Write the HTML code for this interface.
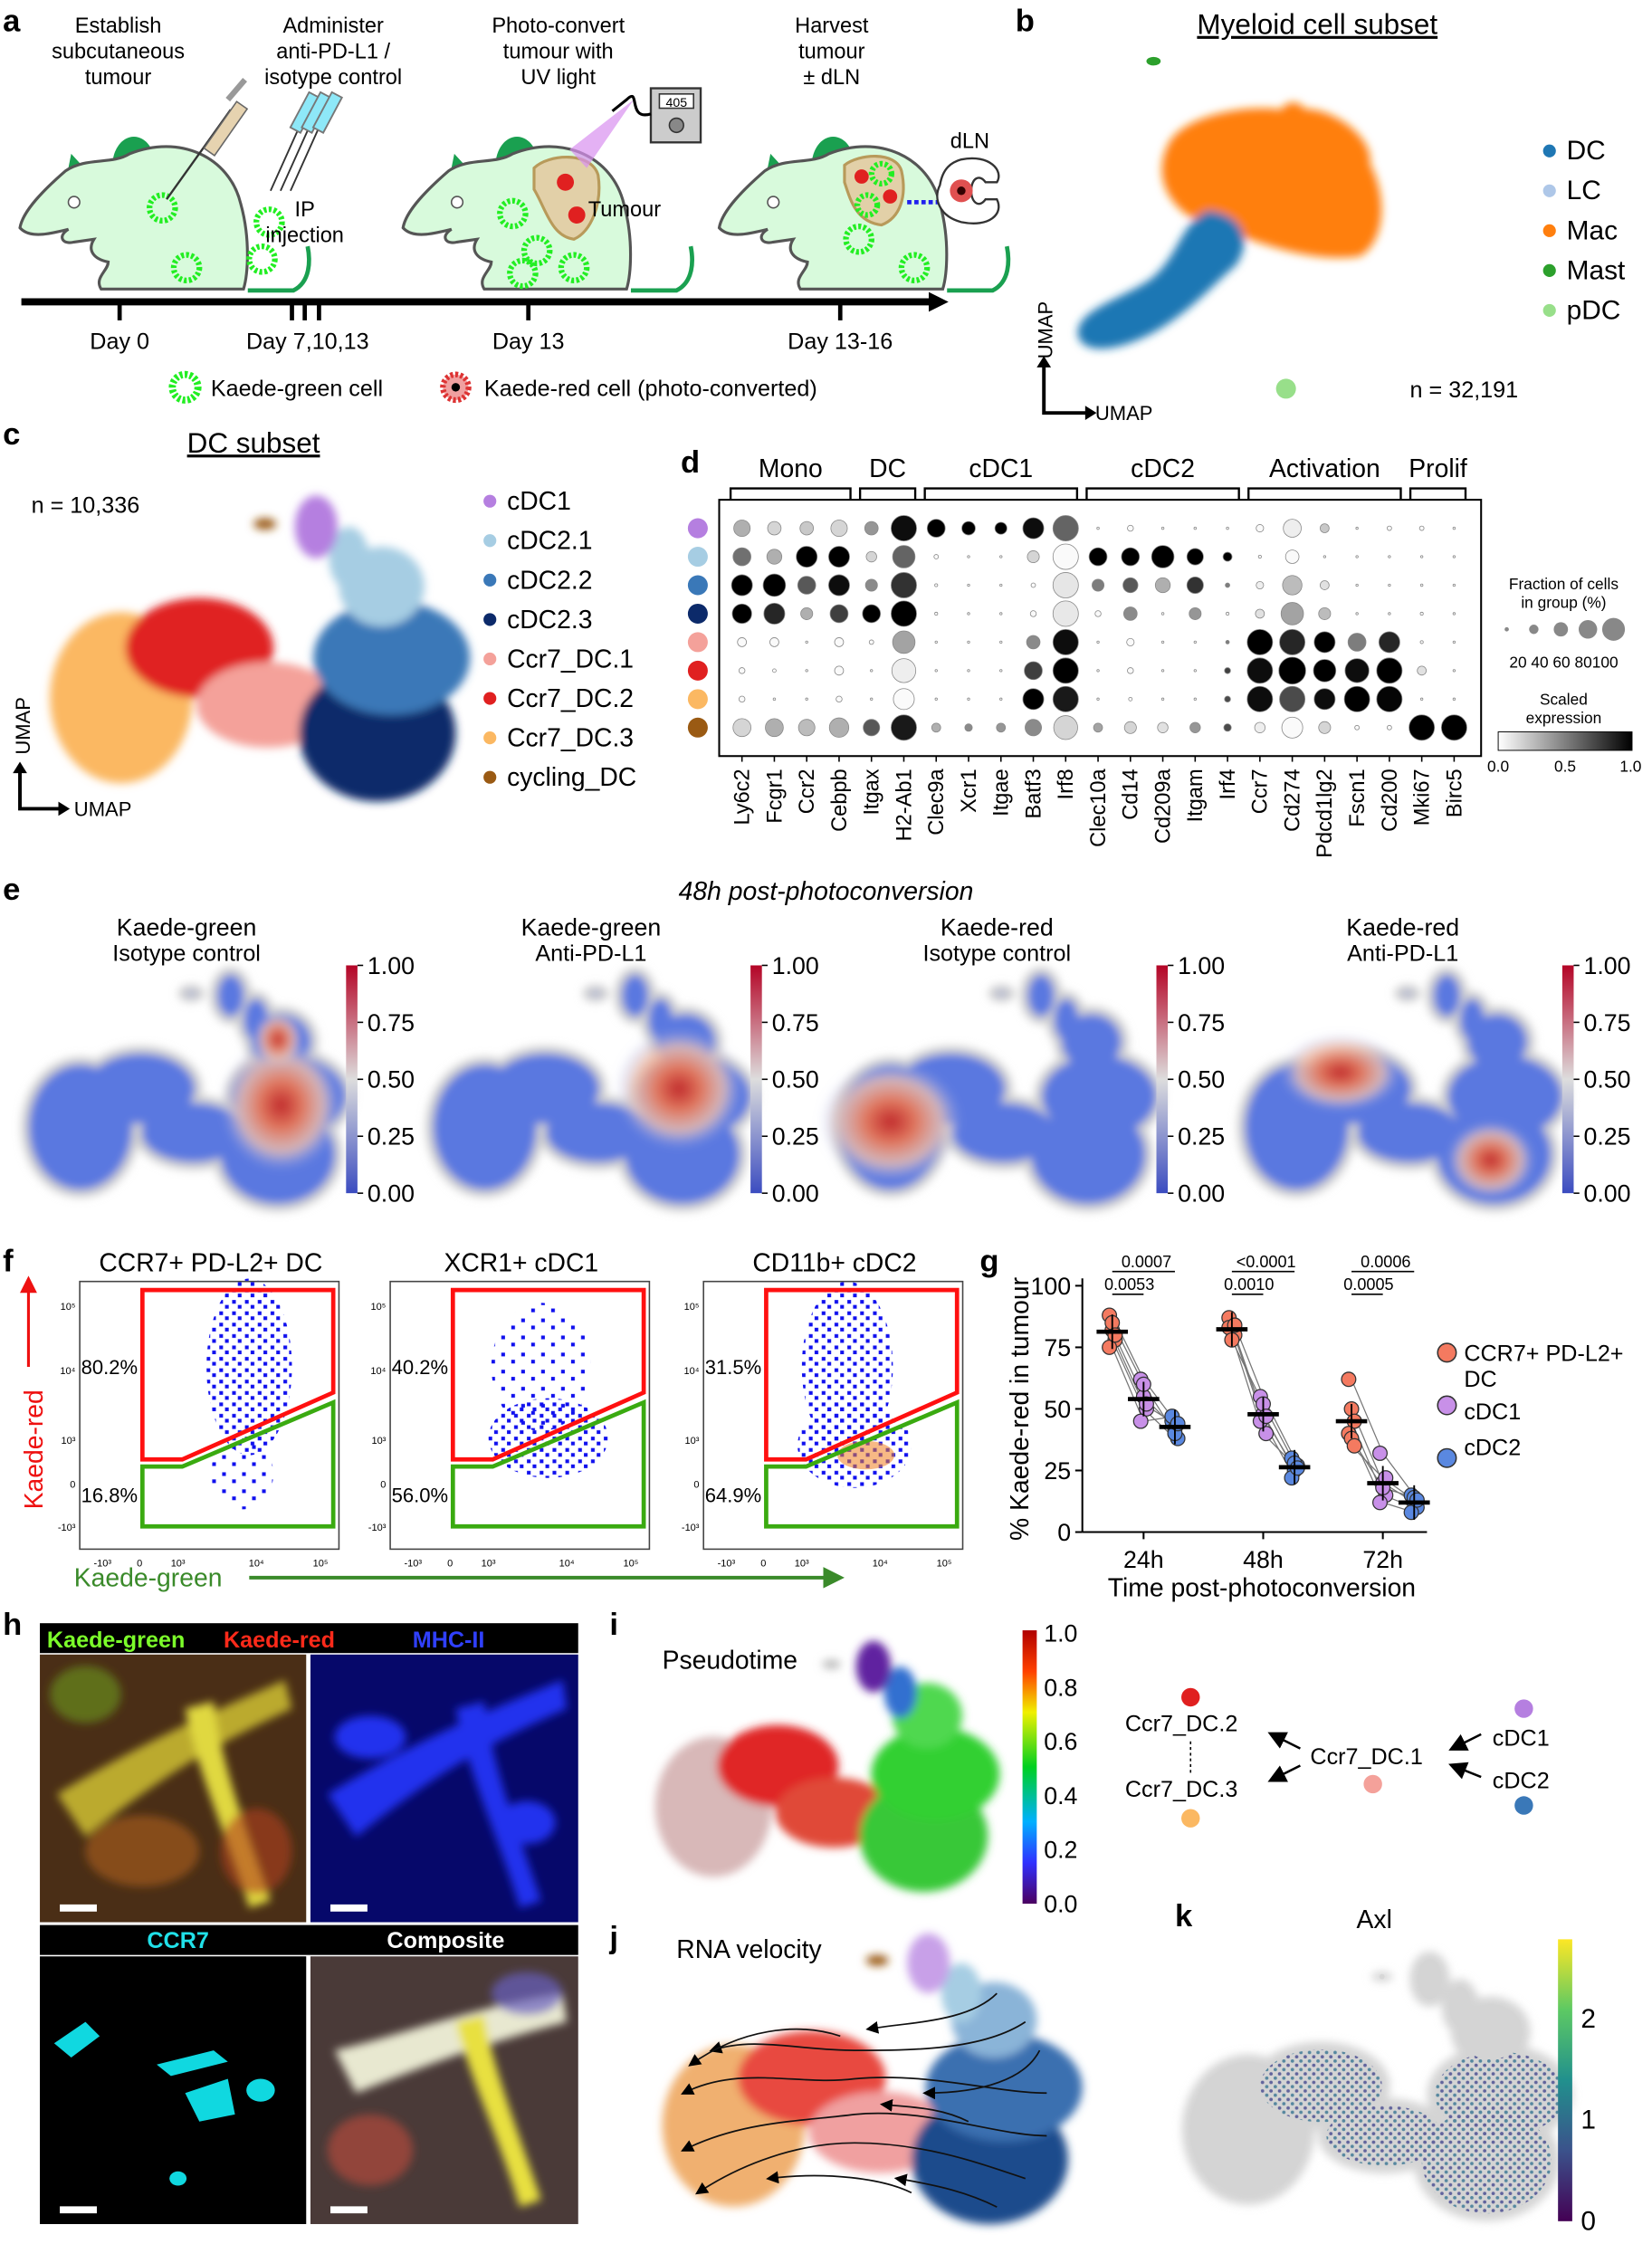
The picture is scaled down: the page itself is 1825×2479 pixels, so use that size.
<!DOCTYPE html>
<html><head><meta charset="utf-8"><style>
html,body{margin:0;padding:0;background:#fff}
svg{display:block}
text{font-family:"Liberation Sans",sans-serif}
</style></head><body>
<svg id="fig" xmlns="http://www.w3.org/2000/svg" width="1825" height="2479" viewBox="0 0 1160 1576" preserveAspectRatio="none">
<defs>
<filter id="bl" x="-20%" y="-20%" width="140%" height="140%"><feGaussianBlur stdDeviation="3"/></filter>
<filter id="bl6" x="-30%" y="-30%" width="160%" height="160%"><feGaussianBlur stdDeviation="6"/></filter>
<radialGradient id="hot"><stop offset="0" stop-color="#c0282a"/><stop offset="0.35" stop-color="#e0775e"/><stop offset="0.7" stop-color="#efc3b0" stop-opacity="0.8"/><stop offset="1" stop-color="#9db0f0" stop-opacity="0"/></radialGradient>
<linearGradient id="cw" x1="0" y1="1" x2="0" y2="0"><stop offset="0" stop-color="#3b4cc0"/><stop offset="0.5" stop-color="#dddddd"/><stop offset="1" stop-color="#b40426"/></linearGradient>
<linearGradient id="jet" x1="0" y1="1" x2="0" y2="0"><stop offset="0" stop-color="#4b0060"/><stop offset="0.15" stop-color="#3030ff"/><stop offset="0.3" stop-color="#00b0ff"/><stop offset="0.5" stop-color="#00d020"/><stop offset="0.7" stop-color="#f0f000"/><stop offset="0.85" stop-color="#ff4000"/><stop offset="1" stop-color="#b00000"/></linearGradient>
<linearGradient id="vir" x1="0" y1="1" x2="0" y2="0"><stop offset="0" stop-color="#440154"/><stop offset="0.25" stop-color="#3b528b"/><stop offset="0.5" stop-color="#21908d"/><stop offset="0.75" stop-color="#5dc963"/><stop offset="1" stop-color="#fde725"/></linearGradient>
<linearGradient id="gry" x1="0" y1="0" x2="1" y2="0"><stop offset="0" stop-color="#fff"/><stop offset="1" stop-color="#000"/></linearGradient>
<pattern id="dots" width="9" height="8" patternUnits="userSpaceOnUse"><rect x="1" y="1" width="2.6" height="2.6" fill="#1010ee"/><rect x="5" y="4.5" width="2.6" height="2.6" fill="#1010ee"/></pattern>
<pattern id="dotsS" width="14" height="12" patternUnits="userSpaceOnUse"><rect x="2" y="2" width="2.6" height="2.6" fill="#1010ee"/><rect x="9" y="7" width="2.6" height="2.6" fill="#1010ee"/></pattern>
<pattern id="kdots" width="6" height="6" patternUnits="userSpaceOnUse"><circle cx="1.5" cy="1.5" r="1.2" fill="#2c6e8e"/><circle cx="4.5" cy="4.5" r="1.2" fill="#3b3f8a"/></pattern>
<marker id="ah" markerWidth="8" markerHeight="8" refX="6" refY="4" orient="auto"><path d="M0,0 L8,4 L0,8 Z" fill="#000"/></marker>
<marker id="ahT" markerWidth="14" markerHeight="14" refX="4" refY="7" orient="auto" markerUnits="userSpaceOnUse"><path d="M0,0 L14,7 L0,14 Z" fill="#000"/></marker>
<marker id="ahg" markerWidth="6" markerHeight="6" refX="4" refY="3" orient="auto"><path d="M0,0 L6,3 L0,6 Z" fill="#3a8a2a"/></marker>
<marker id="ahr" markerWidth="6" markerHeight="6" refX="4" refY="3" orient="auto"><path d="M0,0 L6,3 L0,6 Z" fill="#ee1111"/></marker>
<path id="mouse" d="M8,62 C10,50 25,35 40,22 C55,12 72,18 85,10 C120,-4 155,12 163,45 C170,70 168,95 165,105 L65,105 C60,97 70,92 70,86 C60,84 55,78 60,70 L46,72 C38,74 34,68 42,63 C30,66 15,70 8,62 Z"/>
</defs>

<!-- ===== Panel a ===== -->
<g>
<text x="2" y="22" font-size="22" font-weight="bold">a</text>
<g font-size="15" text-anchor="middle">
<text x="83" y="23">Establish</text><text x="83" y="41">subcutaneous</text><text x="83" y="59">tumour</text>
<text x="234" y="23">Administer</text><text x="234" y="41">anti-PD-L1 /</text><text x="234" y="59">isotype control</text>
<text x="392" y="23">Photo-convert</text><text x="392" y="41">tumour with</text><text x="392" y="59">UV light</text>
<text x="584" y="23">Harvest</text><text x="584" y="41">tumour</text><text x="584" y="59">± dLN</text>
</g>
<g transform="translate(6,98)">
<ellipse cx="88" cy="18" rx="15" ry="20" fill="#1aa050"/><path d="M40,30 L44,10 L55,22 Z" fill="#1aa050"/>
<use href="#mouse" fill="#d8fadc" stroke="#555" stroke-width="2"/>
<path d="M168,106 L200,106 C212,100 212,85 210,75" fill="none" stroke="#1aa050" stroke-width="3"/>
<circle cx="46" cy="44" r="4" fill="#fff" stroke="#555"/>
<g fill="none" stroke="#22ee22" stroke-width="4" stroke-dasharray="2 1.5"><circle cx="108" cy="48" r="9"/><circle cx="183" cy="58" r="9"/><circle cx="125" cy="90" r="9"/><circle cx="178" cy="84" r="9"/></g>
</g>
<g><line x1="117" y1="140" x2="162" y2="77" stroke="#333" stroke-width="1.5"/><rect x="154" y="70" width="9" height="40" fill="#e6d3b0" stroke="#666" transform="rotate(35 158 90)"/><line x1="160" y1="70" x2="172" y2="56" stroke="#999" stroke-width="4"/></g>
<g stroke="#333" stroke-width="1.2"><line x1="190" y1="134" x2="212" y2="85"/><line x1="197" y1="134" x2="219" y2="85"/><line x1="204" y1="134" x2="226" y2="85"/>
<g fill="#8ee8f8" stroke="#777"><rect x="210" y="65" width="8" height="28" transform="rotate(28 214 79)"/><rect x="218" y="65" width="8" height="28" transform="rotate(28 222 79)"/><rect x="226" y="65" width="8" height="28" transform="rotate(28 230 79)"/></g></g>
<text x="214" y="152" font-size="15" text-anchor="middle">IP</text><text x="214" y="170" font-size="15" text-anchor="middle">injection</text>
<g transform="translate(275,98)">
<ellipse cx="88" cy="18" rx="15" ry="20" fill="#1aa050"/><path d="M40,30 L44,10 L55,22 Z" fill="#1aa050"/>
<use href="#mouse" fill="#d8fadc" stroke="#555" stroke-width="2"/>
<path d="M168,106 L200,106 C212,100 212,85 210,75" fill="none" stroke="#1aa050" stroke-width="3"/>
<circle cx="46" cy="44" r="4" fill="#fff" stroke="#555"/>
<path d="M100,20 C110,10 140,8 145,25 C148,45 140,65 128,70 C112,68 108,48 100,35 Z" fill="#e2d0a8" stroke="#b89a5a" stroke-width="2"/>
<circle cx="122" cy="30" r="6" fill="#e02020"/><circle cx="130" cy="53" r="6" fill="#e02020"/>
<g fill="none" stroke="#22ee22" stroke-width="4" stroke-dasharray="2 1.5"><circle cx="85" cy="52" r="9"/><circle cx="102" cy="78" r="9"/><circle cx="92" cy="94" r="9"/><circle cx="128" cy="90" r="9"/></g>
</g>
<g><path d="M445,70 L400,105 L412,118 Z" fill="#d890f0" opacity="0.7"/><rect x="457" y="62" width="35" height="38" fill="#ccc" stroke="#333" stroke-width="1.5"/><rect x="463" y="66" width="24" height="10" fill="#fff" stroke="#333"/><text x="475" y="75" font-size="9" text-anchor="middle">405</text><circle cx="475" cy="88" r="5" fill="#888" stroke="#333"/><path d="M457,80 C440,85 450,60 440,70 L430,78" fill="none" stroke="#000" stroke-width="2"/></g>
<text x="413" y="152" font-size="15">Tumour</text>
<g transform="translate(497,98)">
<ellipse cx="88" cy="18" rx="15" ry="20" fill="#1aa050"/><path d="M40,30 L44,10 L55,22 Z" fill="#1aa050"/>
<use href="#mouse" fill="#d8fadc" stroke="#555" stroke-width="2"/>
<path d="M168,106 L200,106 C212,100 212,85 210,75" fill="none" stroke="#1aa050" stroke-width="3"/>
<circle cx="46" cy="44" r="4" fill="#fff" stroke="#555"/>
<path d="M96,18 C106,10 132,8 136,22 C140,40 135,55 122,60 C104,58 100,42 96,30 Z" fill="#e2d0a8" stroke="#b89a5a" stroke-width="2"/>
<circle cx="108" cy="26" r="5" fill="#e02020"/><circle cx="128" cy="40" r="5" fill="#e02020"/>
<g fill="none" stroke="#22ee22" stroke-width="4" stroke-dasharray="2 1.5"><circle cx="122" cy="24" r="7"/><circle cx="112" cy="46" r="7"/><circle cx="106" cy="70" r="9"/><circle cx="145" cy="90" r="9"/></g>
<line x1="140" y1="44" x2="176" y2="44" stroke="#2020ee" stroke-width="3" stroke-dasharray="3 2"/><path d="M176,38 L184,44 L176,50 Z" fill="#2020ee"/>
</g>
<text x="681" y="104" font-size="15" text-anchor="middle">dLN</text>
<g><path d="M675,112 C695,108 705,120 700,128 L692,128 C688,122 682,125 682,134 C682,143 688,146 692,140 L700,140 C705,150 695,160 675,156 C660,152 655,140 660,130 C662,118 668,114 675,112 Z" fill="#fff" stroke="#333" stroke-width="1.5"/><circle cx="675" cy="134" r="8" fill="#e05050"/><circle cx="675" cy="134" r="3" fill="#300"/></g>
<line x1="15" y1="212" x2="656" y2="212" stroke="#000" stroke-width="5" marker-end="url(#ahT)"/>
<g stroke="#000" stroke-width="3"><line x1="84" y1="212" x2="84" y2="225"/><line x1="205" y1="212" x2="205" y2="225"/><line x1="214" y1="212" x2="214" y2="225"/><line x1="224" y1="212" x2="224" y2="225"/><line x1="371" y1="212" x2="371" y2="225"/><line x1="590" y1="212" x2="590" y2="225"/></g>
<g font-size="16" text-anchor="middle"><text x="84" y="245">Day 0</text><text x="216" y="245">Day 7,10,13</text><text x="371" y="245">Day 13</text><text x="590" y="245">Day 13-16</text></g>
<g><circle cx="130" cy="272" r="9" fill="none" stroke="#22ee22" stroke-width="5" stroke-dasharray="2 1.5"/><text x="148" y="278" font-size="16">Kaede-green cell</text>
<circle cx="320" cy="272" r="9" fill="#f0a0a0" stroke="#dd3333" stroke-width="4" stroke-dasharray="2 1.5"/><circle cx="320" cy="272" r="3" fill="#000"/><text x="340" y="278" font-size="16">Kaede-red cell (photo-converted)</text></g>
</g>

<!-- ===== Panel b ===== -->
<g>
<text x="713" y="22" font-size="22" font-weight="bold">b</text>
<text x="925" y="24" font-size="20" text-anchor="middle" text-decoration="underline">Myeloid cell subset</text>
<g filter="url(#bl)">
<path d="M820,102 C830,80 880,72 905,78 C930,70 965,95 962,115 C975,140 972,170 955,180 C915,186 870,165 835,152 C815,138 812,118 820,102 Z" fill="#ff7f0e"/>
<ellipse cx="908" cy="78" rx="8" ry="6" fill="#ff7f0e"/>
<path d="M848,148 C872,150 880,168 868,186 C852,200 842,212 822,226 C795,245 762,252 757,236 C754,218 788,210 808,196 C828,180 828,158 848,148 Z" fill="#1f77b4"/>
</g>
<ellipse cx="810" cy="43" rx="5" ry="3" fill="#2ca02c"/>
<ellipse cx="903" cy="273" rx="7" ry="7" fill="#98df8a"/>
<g font-size="19">
<circle cx="1088" cy="106" r="4.5" fill="#1f77b4"/><text x="1100" y="112">DC</text>
<circle cx="1088" cy="134" r="4.5" fill="#aec7e8"/><text x="1100" y="140">LC</text>
<circle cx="1088" cy="162" r="4.5" fill="#ff7f0e"/><text x="1100" y="168">Mac</text>
<circle cx="1088" cy="190" r="4.5" fill="#2ca02c"/><text x="1100" y="196">Mast</text>
<circle cx="1088" cy="218" r="4.5" fill="#98df8a"/><text x="1100" y="224">pDC</text>
</g>
<text x="990" y="279" font-size="16">n = 32,191</text>
<path d="M733,255 L733,290 L765,290" fill="none" stroke="#000" stroke-width="2.5"/><path d="M728,258 L733,250 L738,258 Z"/><path d="M762,285 L770,290 L762,295 Z"/>
<text x="769" y="295" font-size="14">UMAP</text><text x="739" y="252" font-size="14" transform="rotate(-90 739 252)">UMAP</text>
</g>

<!-- ===== Panel c ===== -->
<g>
<text x="2" y="312" font-size="22" font-weight="bold">c</text>
<text x="178" y="318" font-size="20" text-anchor="middle" text-decoration="underline">DC subset</text>
<text x="22" y="360" font-size="16">n = 10,336</text>
<g id="umapC" filter="url(#bl)"></g>
<g id="legC" font-size="18"></g>
<path d="M14,540 L14,568 L44,568" fill="none" stroke="#000" stroke-width="2.5"/><path d="M9,543 L14,535 L19,543 Z"/><path d="M41,563 L49,568 L41,573 Z"/>
<text x="52" y="573" font-size="14">UMAP</text><text x="21" y="530" font-size="14" transform="rotate(-90 21 530)">UMAP</text>
</g>

<!-- ===== Panel d ===== -->
<g>
<text x="478" y="332" font-size="22" font-weight="bold">d</text>
<rect x="505" y="351" width="535" height="180" fill="none" stroke="#000" stroke-width="1.3"/>
<g id="dotplot"></g>
<g font-size="11" text-anchor="middle">
<text x="1098" y="414">Fraction of cells</text><text x="1098" y="427">in group (%)</text>
<circle cx="1058" cy="442" r="1.5" fill="#888"/><circle cx="1077" cy="442" r="3.3" fill="#888"/><circle cx="1096" cy="442" r="5" fill="#888"/><circle cx="1115" cy="442" r="6.5" fill="#888"/><circle cx="1133" cy="442" r="8" fill="#888"/>
<text x="1098" y="469">20 40 60 80100</text>
<text x="1098" y="495">Scaled</text><text x="1098" y="508">expression</text>
<rect x="1052" y="514" width="94" height="13" fill="url(#gry)" stroke="#000" stroke-width="0.6"/>
<text x="1052" y="542">0.0</text><text x="1099" y="542">0.5</text><text x="1145" y="542">1.0</text>
</g>
</g>

<!-- ===== Panel e ===== -->
<g>
<text x="2" y="632" font-size="22" font-weight="bold">e</text>
<text x="580" y="632" font-size="18" font-style="italic" text-anchor="middle">48h post-photoconversion</text>
<g id="emaps"></g>
</g>

<!-- ===== Panel f ===== -->
<g>
<text x="2" y="893" font-size="22" font-weight="bold">f</text>
<g id="flow"></g>
<text x="30" y="1060" font-size="18" fill="#ee1111" transform="rotate(-90 30 1060)">Kaede-red</text>
<line x1="20" y1="960" x2="20" y2="900" stroke="#ee1111" stroke-width="2" marker-end="url(#ahr)"/>
<text x="52" y="1114" font-size="18" fill="#3a8a2a">Kaede-green</text>
<line x1="175" y1="1108" x2="588" y2="1108" stroke="#3a8a2a" stroke-width="2.5" marker-end="url(#ahg)"/>
</g>

<!-- ===== Panel g ===== -->
<g>
<text x="688" y="893" font-size="22" font-weight="bold">g</text>
<g id="gplot"></g>
</g>

<!-- ===== Panel h ===== -->
<g>
<text x="2" y="1148" font-size="22" font-weight="bold">h</text>
<rect x="28" y="1140" width="378" height="21" fill="#000"/>
<text x="33" y="1157" font-size="16" font-weight="bold" fill="#7cff2a">Kaede-green</text><text x="157" y="1157" font-size="16" font-weight="bold" fill="#ff2a1a">Kaede-red</text><text x="315" y="1157" font-size="16" font-weight="bold" fill="#3040ff" text-anchor="middle">MHC-II</text>
<g><rect x="28" y="1162" width="187" height="188" fill="#4a2e16"/>
<g filter="url(#bl)"><path d="M40,1260 C90,1230 130,1210 200,1180 L205,1200 C150,1225 110,1250 60,1290 Z" fill="#c8b830" opacity="0.9"/><path d="M130,1200 C140,1250 160,1290 175,1340 L190,1335 C175,1290 155,1240 150,1195 Z" fill="#e0d840"/><ellipse cx="100" cy="1300" rx="40" ry="25" fill="#a05a20" opacity="0.7"/><ellipse cx="60" cy="1190" rx="25" ry="20" fill="#6a8a20" opacity="0.7"/><ellipse cx="180" cy="1300" rx="25" ry="30" fill="#b04020" opacity="0.6"/></g></g>
<g><rect x="218" y="1162" width="188" height="188" fill="#06086a"/>
<g filter="url(#bl)" fill="#2233ee"><path d="M230,1260 C280,1230 320,1210 395,1180 L398,1200 C340,1225 300,1250 250,1290 Z"/><path d="M320,1200 C330,1250 350,1290 365,1340 L380,1335 C365,1290 345,1240 340,1195 Z"/><ellipse cx="260" cy="1220" rx="25" ry="15"/><ellipse cx="370" cy="1280" rx="20" ry="15"/></g></g>
<rect x="28" y="1352" width="378" height="21" fill="#000"/>
<text x="125" y="1368" font-size="16" font-weight="bold" fill="#20e0e8" text-anchor="middle">CCR7</text><text x="313" y="1368" font-size="16" font-weight="bold" fill="#fff" text-anchor="middle">Composite</text>
<g><rect x="28" y="1374" width="187" height="188" fill="#000"/>
<g fill="#10d8e0"><path d="M38,1435 L60,1420 L70,1430 L50,1445 Z"/><path d="M110,1450 L150,1440 L160,1448 L120,1458 Z"/><path d="M130,1470 L160,1460 L165,1485 L140,1490 Z"/><ellipse cx="183" cy="1468" rx="10" ry="8"/><ellipse cx="125" cy="1530" rx="6" ry="5"/></g></g>
<g><rect x="218" y="1374" width="188" height="188" fill="#4a3a38"/>
<g filter="url(#bl)"><path d="M235,1440 C280,1430 330,1410 395,1400 L398,1420 C340,1435 300,1450 250,1470 Z" fill="#e8e8d0"/><path d="M320,1420 C330,1460 350,1500 365,1550 L380,1545 C365,1500 345,1450 340,1415 Z" fill="#e8e040"/><ellipse cx="260" cy="1510" rx="30" ry="25" fill="#b04a3a" opacity="0.7"/><ellipse cx="370" cy="1400" rx="25" ry="15" fill="#6a60c0" opacity="0.7"/></g></g>
<g stroke="#fff" stroke-width="5"><line x1="42" y1="1340" x2="68" y2="1340"/><line x1="232" y1="1340" x2="258" y2="1340"/><line x1="42" y1="1552" x2="68" y2="1552"/><line x1="232" y1="1552" x2="258" y2="1552"/></g>
</g>

<!-- ===== Panel i ===== -->
<g>
<text x="428" y="1148" font-size="22" font-weight="bold">i</text>
<text x="465" y="1172" font-size="18">Pseudotime</text>
<g id="umapI" filter="url(#bl)"></g>
<rect x="718" y="1145" width="10" height="192" fill="url(#jet)"/>
<g font-size="17"><text x="733" y="1153">1.0</text><text x="733" y="1191">0.8</text><text x="733" y="1229">0.6</text><text x="733" y="1267">0.4</text><text x="733" y="1305">0.2</text><text x="733" y="1343">0.0</text></g>
<g font-size="16">
<text x="790" y="1216">Ccr7_DC.2</text><circle cx="836" cy="1192" r="6.5" fill="#e02020"/>
<text x="790" y="1262">Ccr7_DC.3</text><circle cx="836" cy="1277" r="6.5" fill="#fbb862"/>
<line x1="836" y1="1223" x2="836" y2="1245" stroke="#000" stroke-dasharray="2 2"/>
<text x="920" y="1239">Ccr7_DC.1</text><circle cx="964" cy="1253" r="6.5" fill="#f4a19a"/>
<text x="1048" y="1226">cDC1</text><circle cx="1070" cy="1200" r="6.5" fill="#b57fe0"/>
<text x="1048" y="1256">cDC2</text><circle cx="1070" cy="1268" r="6.5" fill="#3a78b8"/>
<g stroke="#000" stroke-width="1.6" marker-end="url(#ah)"><line x1="913" y1="1228" x2="893" y2="1218"/><line x1="913" y1="1240" x2="893" y2="1250"/><line x1="1040" y1="1218" x2="1020" y2="1228"/><line x1="1040" y1="1248" x2="1020" y2="1240"/></g>
</g>
</g>

<!-- ===== Panel j ===== -->
<g>
<text x="428" y="1368" font-size="22" font-weight="bold">j</text>
<text x="475" y="1375" font-size="18">RNA velocity</text>
<g id="umapJ" filter="url(#bl)"></g>
<g fill="none" stroke="#111" stroke-width="1.1">
<path d="M735,1470 C700,1470 650,1455 600,1460 C560,1465 520,1450 480,1470" marker-end="url(#ah)"/>
<path d="M735,1500 C700,1500 650,1480 600,1485 C560,1490 520,1490 480,1510" marker-end="url(#ah)"/>
<path d="M720,1530 C690,1520 650,1505 600,1505 C560,1505 520,1520 490,1540" marker-end="url(#ah)"/>
<path d="M720,1420 C690,1440 640,1440 600,1440 C560,1440 530,1430 500,1440" marker-end="url(#ah)"/>
<path d="M700,1400 C680,1420 640,1420 610,1425" marker-end="url(#ah)"/>
<path d="M730,1440 C720,1460 690,1470 650,1470" marker-end="url(#ah)"/>
<path d="M590,1430 C560,1420 520,1425 485,1450" marker-end="url(#ah)"/>
<path d="M640,1540 C620,1530 580,1525 540,1530" marker-end="url(#ah)"/>
<path d="M700,1550 C680,1540 660,1535 630,1530" marker-end="url(#ah)"/>
<path d="M680,1490 C660,1480 640,1480 620,1478" marker-end="url(#ah)"/>
</g>
</g>

<!-- ===== Panel k ===== -->
<g>
<text x="825" y="1353" font-size="22" font-weight="bold">k</text>
<text x="965" y="1354" font-size="18" text-anchor="middle">Axl</text>
<g id="umapK"></g>
<rect x="1094" y="1362" width="10" height="198" fill="url(#vir)"/>
<g font-size="19"><text x="1110" y="1424">2</text><text x="1110" y="1495">1</text><text x="1110" y="1566">0</text></g>
</g>
</svg>

<script>
// ---------- UMAP cluster layout (c coordinates) ----------
var clusterNames = ["Ccr7_DC.3","Ccr7_DC.2","Ccr7_DC.1","cDC2.3","cDC2.2","cDC2.1","stalk","cDC1","cycling_DC"];
var clusterShape = [[85,490,50,60],[140,455,52,35],[188,495,50,30],[265,515,55,48],[275,462,55,40],[268,412,30,28],[245,392,14,22],[222,370,15,22],[186,368,8,4]];
var clusterColors = ["#fbb862","#e02020","#f4a19a","#0c2a6a","#3a78b8","#a6cde3","#a6cde3","#b57fe0","#9a5a13"];
var NS = "http://www.w3.org/2000/svg";
function E(tag){return document.createElementNS(NS,tag);}
function drawShape(parent, tx, ty, sx, sy, colors, grow){
  for(var i=0;i<clusterShape.length;i++){
    var s=clusterShape[i], el=E("ellipse");
    
    
    el.setAttribute("cx",tx+(s[0]-35)*sx); el.setAttribute("cy",ty+(s[1]-345)*sy);
    el.setAttribute("rx",(s[2]+(grow||0))*sx); el.setAttribute("ry",(s[3]+(grow||0))*sy);
    el.setAttribute("fill",colors[i]); parent.appendChild(el);
  }
}
drawShape(document.getElementById("umapC"),35,345,1,1,clusterColors,0);
var legNames=["cDC1","cDC2.1","cDC2.2","cDC2.3","Ccr7_DC.1","Ccr7_DC.2","Ccr7_DC.3","cycling_DC"];
var legCols=["#b57fe0","#a6cde3","#3a78b8","#0c2a6a","#f4a19a","#e02020","#fbb862","#9a5a13"];
var lc=document.getElementById("legC");
for(var i=0;i<legNames.length;i++){
  var c=E("circle");  
  c.setAttribute("cx",344);c.setAttribute("cy",352+i*27.7);c.setAttribute("r",4.5);c.setAttribute("fill",legCols[i]);lc.appendChild(c);
  var t=E("text");  
  t.setAttribute("x",356);t.setAttribute("y",358+i*27.7);t.textContent=legNames[i];lc.appendChild(t);
}
// ---------- Panel e ----------
var eTitles1=["Kaede-green","Kaede-green","Kaede-red","Kaede-red"];
var eTitles2=["Isotype control","Anti-PD-L1","Isotype control","Anti-PD-L1"];
var eX=[18,302,587,872];
var eHot=[[[268,470,55,60],[265,410,22,25]],[[262,455,58,55]],[[85,485,65,55]],[[125,440,55,35],[262,520,40,35]]];
var eTicks=["1.00","0.75","0.50","0.25","0.00"];
var em=document.getElementById("emaps");
var grey=clusterColors.map(function(){return "#cfcfcf";});
var blue=clusterColors.map(function(){return "#5a78e0";});
for(var k=0;k<4;k++){
  var g=E("g");  
  var t1=E("text");t1.setAttribute("x",eX[k]+113);t1.setAttribute("y",657);t1.setAttribute("font-size","17");t1.setAttribute("text-anchor","middle");t1.textContent=eTitles1[k];g.appendChild(t1);
  var t2=E("text");t2.setAttribute("x",eX[k]+113);t2.setAttribute("y",675);t2.setAttribute("font-size","16");t2.setAttribute("text-anchor","middle");t2.textContent=eTitles2[k];g.appendChild(t2);
  var m=E("g"); m.setAttribute("filter","url(#bl)");
  drawShape(m,eX[k],680,0.77,0.77,grey,4);
  drawShape(m,eX[k],680,0.77,0.77,blue,-3);
  eHot[k].forEach(function(h){var el=E("ellipse");
    
    
    el.setAttribute("cx",eX[k]+(h[0]-35)*0.77);el.setAttribute("cy",680+(h[1]-345)*0.77);el.setAttribute("rx",h[2]*0.77);el.setAttribute("ry",h[3]*0.77);el.setAttribute("fill","url(#hot)");m.appendChild(el);});
  g.appendChild(m);
  var cb=E("rect");  
  cb.setAttribute("x",eX[k]+225);cb.setAttribute("y",678);cb.setAttribute("width",8);cb.setAttribute("height",160);cb.setAttribute("fill","url(#cw)");g.appendChild(cb);
  for(var j=0;j<5;j++){var tt=E("text");tt.setAttribute("x",eX[k]+240);tt.setAttribute("y",684+j*40);tt.setAttribute("font-size","17");tt.textContent=eTicks[j];g.appendChild(tt);
    var tl=E("line");tl.setAttribute("x1",eX[k]+233);tl.setAttribute("x2",eX[k]+237);tl.setAttribute("y1",678+j*40);tl.setAttribute("y2",678+j*40);tl.setAttribute("stroke","#000");g.appendChild(tl);}
  em.appendChild(g);
}
// ---------- Panel i / j / k ----------
var iCols=["#d8b8b8","#e02828","#e04838","#38c838","#30d030","#50d850","#3070d0","#6020a0","#bbbbbb"];
drawShape(document.getElementById("umapI"),460,1150,0.82,0.82,iCols,0);
var jCols=["#f0b070","#e84a40","#f0a0a0","#1f4c8c","#3a70b0","#8ab4d8","#a6cde3","#c8a0e8","#9a5a13"];
drawShape(document.getElementById("umapJ"),465,1355,1.0,0.95,jCols,0);
var kg=document.getElementById("umapK");
var kb=E("g"); kb.setAttribute("filter","url(#bl)");
drawShape(kb,830,1368,0.93,0.88,clusterColors.map(function(){return "#d4d4d4";}),0);
kg.appendChild(kb);
var kd=E("g"); kd.setAttribute("opacity","0.75");
drawShape(kd,830,1368,0.93,0.88,["#d4d4d4","url(#kdots)","url(#kdots)","url(#kdots)","url(#kdots)","#d4d4d4","#d4d4d4","#d4d4d4","#d4d4d4"],-6);
kg.appendChild(kd);

// ---------- Panel d dot plot ----------
var genes=["Ly6c2","Fcgr1","Ccr2","Cebpb","Itgax","H2-Ab1","Clec9a","Xcr1","Itgae","Batf3","Irf8","Clec10a","Cd14","Cd209a","Itgam","Irf4","Ccr7","Cd274","Pdcd1lg2","Fscn1","Cd200","Mki67","Birc5"];
var groupColors=["#b57fe0","#a6cde3","#3a78b8","#0c2a6a","#f4a19a","#e02020","#fbb862","#9a5a13"];
var fraction=[
[.55,.45,.45,.55,.45,.85,.6,.45,.4,.7,.85,.08,.2,.08,.08,.08,.25,.6,.3,.05,.15,.15,.08],
[.6,.5,.7,.7,.35,.75,.15,.02,.02,.4,.85,.6,.6,.75,.55,.3,.1,.45,.05,.05,.05,.05,.05],
[.7,.75,.6,.7,.4,.85,.1,.03,.03,.15,.85,.4,.5,.5,.55,.15,.25,.65,.3,.04,.04,.08,.04],
[.65,.7,.4,.6,.6,.85,.1,.04,.05,.2,.85,.2,.45,.08,.4,.1,.3,.75,.4,.05,.05,.1,.05],
[.3,.3,.06,.3,.15,.75,.05,.02,.02,.45,.85,.04,.25,.02,.05,.12,.85,.85,.7,.6,.7,.1,.04],
[.2,.12,.06,.3,.04,.8,.04,.02,.02,.6,.85,.04,.2,.02,.04,.2,.85,.9,.75,.8,.85,.3,.05],
[.2,.08,.06,.2,.04,.7,.04,.02,.02,.7,.85,.02,.12,.02,.05,.2,.85,.85,.7,.85,.85,.05,.05],
[.6,.6,.55,.65,.55,.85,.3,.25,.3,.55,.8,.3,.4,.35,.35,.25,.35,.7,.4,.15,.15,.85,.85]];
var expression=[
[.3,.15,.2,.15,.4,.95,1,1,1,.95,.6,0,0,0,0,0,0,.05,.2,0,0,0,0],
[.55,.3,1,1,.15,.6,0,0,0,.15,0,1,1,1,1,1,0,0,0,0,0,0,0],
[1,1,.65,.95,.45,.8,0,0,0,0,.08,.5,.65,.3,.8,.5,.05,.25,.1,0,0,0,0],
[1,.85,.3,.75,1,1,0,0,0,0,.07,0,.45,0,.4,0,.1,.35,.25,0,0,0,0],
[0,0,0,0,0,.35,0,0,0,.45,.95,0,0,0,0,.5,1,.85,1,.5,.85,0,0],
[0,0,0,0,0,.05,0,0,0,.75,1,0,0,0,0,.75,.95,1,1,.95,1,.1,0],
[0,0,0,0,0,0,0,0,0,1,.9,0,0,0,0,.7,.95,.7,.95,1,.98,0,0],
[.15,.3,.25,.3,.65,.9,.3,.45,.4,.45,.15,.35,.15,.1,.4,.7,.05,0,.15,0,0,1,1]];
var brackets=["Mono","DC","cDC1","cDC2","Activation","Prolif"];
var bracketStart=[0,4,6,11,16,21], bracketEnd=[3,5,10,15,20,22];
function colX(i){return 521+i*22.73;}
function rowY(r){return 371+r*20;}
function rad(f){return Math.max(0.8,f*10.5);}
var dp=document.getElementById("dotplot");
for(var r=0;r<groupColors.length;r++){
  var gc=E("circle");
  
  
  gc.setAttribute("cx",490);gc.setAttribute("cy",rowY(r));gc.setAttribute("r",7);gc.setAttribute("fill",groupColors[r]);dp.appendChild(gc);
  for(var c=0;c<genes.length;c++){
    var d=E("circle");
    
    
    var v=Math.round(250*(1-expression[r][c]));
    d.setAttribute("cx",colX(c));d.setAttribute("cy",rowY(r));d.setAttribute("r",rad(fraction[r][c]));
    d.setAttribute("fill","rgb("+v+","+v+","+v+")");d.setAttribute("stroke","#888");d.setAttribute("stroke-width","0.5");dp.appendChild(d);
  }
}
for(var c=0;c<genes.length;c++){
  var t=E("text");
  
  
  var x=colX(c)+5;t.setAttribute("x",x);t.setAttribute("y",540);t.setAttribute("font-size","15");t.setAttribute("text-anchor","end");
  t.setAttribute("transform","rotate(-90 "+x+" 540)");t.textContent=genes[c];dp.appendChild(t);
  var tk=E("line");tk.setAttribute("x1",colX(c));tk.setAttribute("x2",colX(c));tk.setAttribute("y1",531);tk.setAttribute("y2",535);tk.setAttribute("stroke","#000");dp.appendChild(tk);
}
for(var b=0;b<brackets.length;b++){
  var x1=colX(bracketStart[b])-8,x2=colX(bracketEnd[b])+8;
  var p=E("path");
  
  
  p.setAttribute("d","M"+x1+",351 L"+x1+",343 L"+x2+",343 L"+x2+",351");p.setAttribute("fill","none");p.setAttribute("stroke","#000");p.setAttribute("stroke-width","1.5");dp.appendChild(p);
  var t=E("text");
  
  
  t.setAttribute("x",(x1+x2)/2);t.setAttribute("y",335);t.setAttribute("font-size","18");t.setAttribute("text-anchor","middle");t.textContent=brackets[b];dp.appendChild(t);
}

// ---------- Panel f flow plots ----------
var flowTitles=["CCR7+ PD-L2+ DC","XCR1+ cDC1","CD11b+ cDC2"];
var flowRed=["80.2%","40.2%","31.5%"], flowGreen=["16.8%","56.0%","64.9%"];
var flowX=[0,218,438];
var flowClouds=[[[175,960,30,62,"dots"],[170,1035,22,25,"dotsS"]],[[385,1010,42,28,"dots"],[380,960,35,45,"dotsS"]],[[600,1015,40,30,"dots"],[595,960,32,60,"dots"]]];
var fl=document.getElementById("flow");
for(var k=0;k<3;k++){
  var o=flowX[k], g=E("g");
  
  
  var ti=E("text");ti.setAttribute("x",o+148);ti.setAttribute("y",893);ti.setAttribute("font-size","18");ti.setAttribute("text-anchor","middle");ti.textContent=flowTitles[k];g.appendChild(ti);
  var fr=E("rect");fr.setAttribute("x",o+56);fr.setAttribute("y",900);fr.setAttribute("width",182);fr.setAttribute("height",188);fr.setAttribute("fill","none");fr.setAttribute("stroke","#444");fr.setAttribute("stroke-width","1");g.appendChild(fr);
  flowClouds[k].forEach(function(cl){var e=E("ellipse");
    
    
    e.setAttribute("cx",cl[0]);e.setAttribute("cy",cl[1]);e.setAttribute("rx",cl[2]);e.setAttribute("ry",cl[3]);e.setAttribute("fill","url(#"+cl[4]+")");g.appendChild(e);});
  if(k==2){var oe=E("ellipse");oe.setAttribute("cx",o+170);oe.setAttribute("cy",1022);oe.setAttribute("rx",20);oe.setAttribute("ry",10);oe.setAttribute("fill","#f08020");oe.setAttribute("opacity","0.55");g.appendChild(oe);}
  var rg=E("path");
  
  
  rg.setAttribute("d","M"+(o+100)+",906 L"+(o+234)+",906 L"+(o+234)+",978 L"+(o+128)+",1025 L"+(o+100)+",1025 Z");rg.setAttribute("fill","none");rg.setAttribute("stroke","#ff1010");rg.setAttribute("stroke-width","3");g.appendChild(rg);
  var gg=E("path");
  
  
  gg.setAttribute("d","M"+(o+100)+",1030 L"+(o+128)+",1030 L"+(o+234)+",985 L"+(o+234)+",1072 L"+(o+100)+",1072 Z");gg.setAttribute("fill","none");gg.setAttribute("stroke","#3aaa10");gg.setAttribute("stroke-width","3");g.appendChild(gg);
  var a=E("text");a.setAttribute("x",o+57);a.setAttribute("y",965);a.setAttribute("font-size","14");a.textContent=flowRed[k];g.appendChild(a);
  var b2=E("text");b2.setAttribute("x",o+57);b2.setAttribute("y",1055);b2.setAttribute("font-size","14");b2.textContent=flowGreen[k];g.appendChild(b2);
  var ax=[["-10³",o+72],["0",o+98],["10³",o+125],["10⁴",o+180],["10⁵",o+225]];
  ax.forEach(function(q){var tt=E("text");tt.setAttribute("x",q[1]);tt.setAttribute("y",1100);tt.setAttribute("font-size","7");tt.setAttribute("text-anchor","middle");tt.textContent=q[0];g.appendChild(tt);});
  var ay=[["10⁵",920],["10⁴",965],["10³",1014],["0",1045],["-10³",1075]];
  ay.forEach(function(q){var tt=E("text");tt.setAttribute("x",o+53);tt.setAttribute("y",q[1]);tt.setAttribute("font-size","7");tt.setAttribute("text-anchor","end");tt.textContent=q[0];g.appendChild(tt);});
  fl.appendChild(g);
}

// ---------- Panel g ----------
var timepoints=["24h","48h","72h"];
var populations=["CCR7+ PD-L2+ DC","cDC1","cDC2"];
var popColors=["#f47a60","#c890e8","#5a88e0"];
var ccr7Vals=[[88,82,78,75,85,80],[87,82,80,83,78,84],[62,50,45,40,38,35]];
var cdc1Vals=[[62,55,50,45,60,52],[55,48,40,45,52,47],[32,20,15,12,18,22]];
var cdc2Vals=[[45,42,38,47,40,44],[30,25,27,22,28,26],[15,12,10,8,14,13]];
var pLabelsTop=["0.0007","<0.0001","0.0006"], pLabelsLow=["0.0053","0.0010","0.0005"];
var yTicks=[0,25,50,75,100];
var vals=[ccr7Vals,cdc1Vals,cdc2Vals];
function gx(t,p){return 781+t*84+p*22;}
function gy(v){return 1076-v*1.73;}
var gp=document.getElementById("gplot");
function line(x1,y1,x2,y2,col,w){var l=E("line");l.setAttribute("x1",x1);l.setAttribute("y1",y1);l.setAttribute("x2",x2);l.setAttribute("y2",y2);l.setAttribute("stroke",col);l.setAttribute("stroke-width",w);gp.appendChild(l);return l;}
function txt(x,y,s,sz,anc){var t=E("text");t.setAttribute("x",x);t.setAttribute("y",y);t.setAttribute("font-size",sz);if(anc)t.setAttribute("text-anchor",anc);t.textContent=s;gp.appendChild(t);return t;}
var ya=line(760,gy(0),760,gy(103),"#000",1.3);  
var xa=line(760,gy(0),1002,gy(0),"#000",1.3);  
yTicks.forEach(function(v){line(755,gy(v),760,gy(v),"#000",1.3);var t=txt(752,gy(v)+6,String(v),17,"end");});
timepoints.forEach(function(tp,t){line(gx(t,1),gy(0),gx(t,1),gy(0)+5,"#000",1.3);var l=txt(gx(t,1),1101,tp,17,"middle");});
var yt=txt(722,1082,"% Kaede-red in tumour",18); yt.setAttribute("transform","rotate(-90 722 1082)");  
var xt=txt(886,1121,"Time post-photoconversion",18,"middle");  
for(var t=0;t<3;t++){
  for(var m=0;m<6;m++){
    var pl=E("polyline");
    
    
    pl.setAttribute("points",gx(t,0)+","+gy(vals[0][t][m])+" "+gx(t,1)+","+gy(vals[1][t][m])+" "+gx(t,2)+","+gy(vals[2][t][m]));
    pl.setAttribute("fill","none");pl.setAttribute("stroke","#777");pl.setAttribute("stroke-width","0.8");gp.appendChild(pl);
  }
  for(var p=0;p<3;p++){
    var arr=vals[p][t], mean=arr.reduce(function(a,b){return a+b;},0)/arr.length;
    for(var m=0;m<arr.length;m++){
      var c=E("circle");
      
      
      c.setAttribute("cx",gx(t,p)+(m%3-1)*2);c.setAttribute("cy",gy(arr[m]));c.setAttribute("r",5);c.setAttribute("fill",popColors[p]);c.setAttribute("stroke","#333");c.setAttribute("stroke-width","0.8");gp.appendChild(c);
    }
    var mb=line(gx(t,p)-11,gy(mean),gx(t,p)+11,gy(mean),"#000",3);
    
    
    line(gx(t,p),gy(mean-7),gx(t,p),gy(mean+7),"#000",1.2);
  }
  line(gx(t,0),893,gx(t,2),893,"#000",1); txt(gx(t,1)+2,890,pLabelsTop[t],11.5,"middle");
  line(gx(t,0),909,gx(t,1),909,"#000",1); txt(gx(t,0)+12,906,pLabelsLow[t],11.5,"middle");
}
populations.forEach(function(nm,p){
  var c=E("circle");
  
  
  c.setAttribute("cx",1016);c.setAttribute("cy",950+p*37);c.setAttribute("r",6.5);c.setAttribute("fill",popColors[p]);c.setAttribute("stroke","#333");gp.appendChild(c);
});
var l1=txt(1028,956,"CCR7+ PD-L2+",16);  
txt(1028,974,"DC",16);
var l2=txt(1028,997,"cDC1",16);  
var l3=txt(1028,1022,"cDC2",16);  
</script>
</body></html>
